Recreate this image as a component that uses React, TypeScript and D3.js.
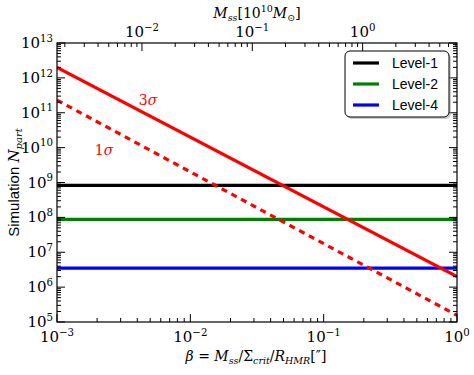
import React from "react";
import * as d3 from "d3";

const W = 474, H = 375;
const M = { left: 57, right: 457, top: 43, bottom: 322 };

// data
const betaDomain = [1e-3, 1];
const nDomain = [1e5, 1e13];
const mssDomainLog = [-2.77, 0.855];
const yTickExps = [5, 6, 7, 8, 9, 10, 11, 12, 13];
const xTickExps = [-3, -2, -1, 0];
const topTickExps = [-2, -1, 0];
const levelNames = ["Level-1", "Level-2", "Level-4"];
const levelValues = [8.3e8, 8.8e7, 3.5e6];
const levelColors = ["#000000", "#007f00", "#0000ff"];
const sigma3Beta = [1e-3, 1];
const sigma3N = [2.0e12, 2.0e6];
const sigma1Beta = [1e-3, 1];
const sigma1N = [2.3e11, 1.55e5];

const serif = "'DejaVu Serif', serif";
const sans = "'Liberation Sans', Arial, sans-serif";

function Pow({ x, y, base = "10", exp, anchor = "middle", size = 15 }: any) {
  return (
    <text x={x} y={y} textAnchor={anchor} fontFamily={serif} fontSize={size} fill="#000">
      <tspan>{base}</tspan>
      <tspan dy={-size * 0.42} fontSize={size * 0.68}>{exp}</tspan>
    </text>
  );
}

export default function App() {
  const x = d3.scaleLog().domain(betaDomain).range([M.left, M.right]);
  const y = d3.scaleLog().domain(nDomain).range([M.bottom, M.top]);
  const xt = d3.scaleLinear().domain(mssDomainLog).range([M.left, M.right]);

  const xMinor: number[] = [];
  for (let e = -3; e < 0; e++) for (let k = 2; k <= 9; k++) xMinor.push(k * Math.pow(10, e));
  const yMinor: number[] = [];
  for (let e = 5; e < 13; e++) for (let k = 2; k <= 9; k++) yMinor.push(k * Math.pow(10, e));
  const topMajor = topTickExps;
  const topMinor: number[] = [];
  for (let e = -3; e <= 0; e++)
    for (let k = 2; k <= 9; k++) {
      const l = e + Math.log10(k);
      if (l > mssDomainLog[0] && l < mssDomainLog[1]) topMinor.push(l);
    }

  const line = d3.line<[number, number]>().x((d) => x(d[0])).y((d) => y(d[1]));
  const s3 = sigma3Beta.map((b, i) => [b, sigma3N[i]] as [number, number]);
  const s1 = sigma1Beta.map((b, i) => [b, sigma1N[i]] as [number, number]);

  const maj = 8, mnr = 4;
  const tickStroke = { stroke: "#000", strokeWidth: 1 };

  const lx = 345, ly = 51, lw = 104, lh = 66;

  return (
    <svg width={W} height={H} style={{ position: "absolute", left: 0, top: 0, background: "#fff" }}>
      <defs>
        <clipPath id="plot">
          <rect x={M.left} y={M.top} width={M.right - M.left} height={M.bottom - M.top} />
        </clipPath>
      </defs>
      <rect x={0} y={0} width={W} height={H} fill="#fff" />
      <g clipPath="url(#plot)">
        {levelValues.map((v, i) => (
          <line key={i} x1={M.left} x2={M.right} y1={y(v)} y2={y(v)} stroke={levelColors[i]} strokeWidth={3.2} />
        ))}
        <path d={line(s3) || ""} stroke="#ff0000" strokeWidth={3.2} fill="none" />
        <path d={line(s1) || ""} stroke="#ff0000" strokeWidth={3.2} fill="none" strokeDasharray="6,5" />
      </g>
      {/* frame */}
      <rect x={M.left} y={M.top} width={M.right - M.left} height={M.bottom - M.top} fill="none" stroke="#000" strokeWidth={1.2} />
      {/* bottom ticks */}
      {xTickExps.map((e) => (
        <g key={"xb" + e}>
          <line x1={x(Math.pow(10, e))} x2={x(Math.pow(10, e))} y1={M.bottom} y2={M.bottom - maj} {...tickStroke} />
          <Pow x={x(Math.pow(10, e))} y={M.bottom + 20} exp={e < 0 ? "\u2212" + Math.abs(e) : String(e)} />
        </g>
      ))}
      {xMinor.map((v, i) => (
        <line key={"xm" + i} x1={x(v)} x2={x(v)} y1={M.bottom} y2={M.bottom - mnr} {...tickStroke} />
      ))}
      {/* top ticks */}
      {topMajor.map((e) => (
        <g key={"xt" + e}>
          <line x1={xt(e)} x2={xt(e)} y1={M.top} y2={M.top + maj} {...tickStroke} />
          <Pow x={xt(e)} y={M.top - 6} exp={e < 0 ? "\u2212" + Math.abs(e) : String(e)} />
        </g>
      ))}
      {topMinor.map((l, i) => (
        <line key={"tm" + i} x1={xt(l)} x2={xt(l)} y1={M.top} y2={M.top + mnr} {...tickStroke} />
      ))}
      {/* y ticks */}
      {yTickExps.map((e) => (
        <g key={"y" + e}>
          <line x1={M.left} x2={M.left + maj} y1={y(Math.pow(10, e))} y2={y(Math.pow(10, e))} {...tickStroke} />
          <line x1={M.right} x2={M.right - maj} y1={y(Math.pow(10, e))} y2={y(Math.pow(10, e))} {...tickStroke} />
          <Pow x={M.left - 4} y={y(Math.pow(10, e)) + 5} exp={String(e)} anchor="end" />
        </g>
      ))}
      {yMinor.map((v, i) => (
        <g key={"ym" + i}>
          <line x1={M.left} x2={M.left + mnr} y1={y(v)} y2={y(v)} {...tickStroke} />
          <line x1={M.right} x2={M.right - mnr} y1={y(v)} y2={y(v)} {...tickStroke} />
        </g>
      ))}
      {/* annotations */}
      <text x={148} y={105} textAnchor="middle" fontFamily={serif} fontSize={14} fill="#ff0000">
        3<tspan fontStyle="italic">σ</tspan>
      </text>
      <text x={104} y={155} textAnchor="middle" fontFamily={serif} fontSize={14} fill="#ff0000">
        1<tspan fontStyle="italic">σ</tspan>
      </text>
      {/* axis labels */}
      <text x={256} y={361} textAnchor="middle" fontFamily={serif} fontSize={14} fill="#000">
        <tspan fontStyle="italic">β</tspan> = <tspan fontStyle="italic">M</tspan>
        <tspan fontStyle="italic" fontSize={9.5} dy={3}>ss</tspan>
        <tspan dy={-3}>/Σ</tspan>
        <tspan fontStyle="italic" fontSize={9.5} dy={3}>crit</tspan>
        <tspan dy={-3}>/</tspan>
        <tspan fontStyle="italic">R</tspan>
        <tspan fontStyle="italic" fontSize={9.5} dy={3}>HMR</tspan>
        <tspan dy={-3}>[″]</tspan>
      </text>
      <text x={257} y={18} textAnchor="middle" fontFamily={serif} fontSize={14} fill="#000">
        <tspan fontStyle="italic">M</tspan>
        <tspan fontStyle="italic" fontSize={9.5} dy={3}>ss</tspan>
        <tspan dy={-3}>[10</tspan>
        <tspan fontSize={9.5} dy={-6}>10</tspan>
        <tspan fontStyle="italic" dy={6}>M</tspan>
        <tspan fontSize={9.5} dy={3}>⊙</tspan>
        <tspan dy={-3}>]</tspan>
      </text>
      <text transform={`translate(19,${(M.top + M.bottom) / 2}) rotate(-90)`} textAnchor="middle" fontSize={15} fill="#000">
        <tspan fontFamily={sans}>Simulation </tspan>
        <tspan fontFamily={serif} fontStyle="italic">N</tspan>
        <tspan fontFamily={serif} fontStyle="italic" fontSize={10} dy={3}>part</tspan>
      </text>
      {/* legend */}
      <rect x={lx + 2} y={ly + 2} width={lw} height={lh} rx={5} fill="#999" opacity={0.5} />
      <rect x={lx} y={ly} width={lw} height={lh} rx={5} fill="#fff" stroke="#000" strokeWidth={1} />
      {levelNames.map((n, i) => (
        <g key={n}>
          <line x1={lx + 8} x2={lx + 34} y1={ly + 12 + i * 21} y2={ly + 12 + i * 21} stroke={levelColors[i]} strokeWidth={3.2} />
          <text x={lx + 47} y={ly + 17 + i * 21} fontFamily={sans} fontSize={14} fill="#000">{n}</text>
        </g>
      ))}
    </svg>
  );
}
